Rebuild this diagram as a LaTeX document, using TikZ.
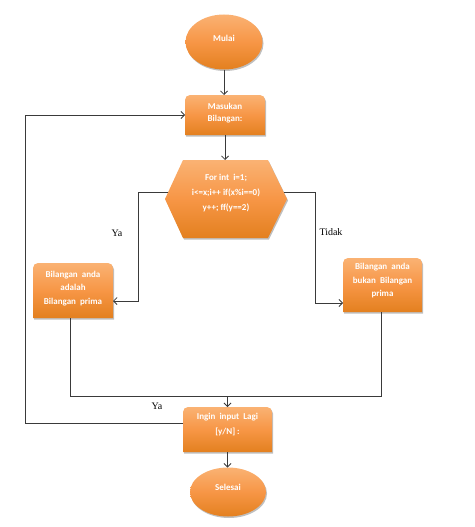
\documentclass[tikz,border=0pt]{standalone}
\usepackage{fontspec}
\setmainfont{Liberation Serif}
\newfontfamily\boxfont{Carlito}
\usetikzlibrary{arrows.meta,shapes.geometric,shadows,backgrounds}
\definecolor{ortop}{HTML}{FAB273}
\definecolor{ormid}{HTML}{F79646}
\definecolor{orbot}{HTML}{E3801F}
\definecolor{lin}{HTML}{3A3A3A}
\tikzset{
 orshade/.style={top color=ortop, bottom color=orbot, middle color=ormid,
   drop shadow={shadow xshift=1pt,shadow yshift=-1.5pt,opacity=.25,fill=black}},
 txt/.style={font=\boxfont\bfseries\fontsize{9}{14}\selectfont, text=white, align=center, inner sep=0pt, outer sep=0pt},
 terminal/.style={inner sep=0pt, outer sep=0pt, ellipse, orshade},
 boxnode/.style={inner sep=0pt, outer sep=0pt, rectangle},
 conn/.style={draw=lin, line width=0.8pt},
 arr/.style={conn, -{Straight Barb[length=3.5pt,width=7pt]}},
 lbl/.style={font=\fontsize{10}{12}\selectfont, inner sep=0pt}
}
\newcommand\topround[1]{\begin{pgfonlayer}{background}\path[orshade] (#1.south west) -- ([yshift=-5pt]#1.north west) arc[start angle=180,end angle=90,radius=5pt] -- ([xshift=-5pt]#1.north east) arc[start angle=90,end angle=0,radius=5pt] -- (#1.south east) -- cycle;\end{pgfonlayer}}
\begin{document}
\begin{tikzpicture}[x=1pt,y=-1pt]
\useasboundingbox (0,0) rectangle (474,527);
\node[terminal, minimum width=77pt, minimum height=55pt,
  label={[txt,yshift=4pt]center:Mulai}] (mulai) at (224,42) {};
\node[boxnode, minimum width=80pt, minimum height=40pt,
  label={[txt,font=\boxfont\bfseries\fontsize{9}{12}\selectfont,yshift=2pt]center:{Masukan\\Bilangan:}}] (masuk) at (225,115) {};
\topround{masuk}
\node[boxnode, minimum width=122pt, minimum height=78pt,
  label={[txt,font=\boxfont\bfseries\fontsize{9}{15}\selectfont,yshift=6pt]center:{For int~~i=1;\\i<=x;i++ if(x\%i==0)\\y++; ff(y==2)}}] (hex) at (226,199) {};
\begin{pgfonlayer}{background}
\path[orshade] (hex.west) -- ([xshift=18pt]hex.north west) -- ([xshift=-19pt]hex.north east) -- (hex.east) -- ([xshift=-19pt]hex.south east) -- ([xshift=18pt]hex.south west) -- cycle;
\end{pgfonlayer}
\node[boxnode, minimum width=80pt, minimum height=55pt,
  label={[txt,font=\boxfont\bfseries\fontsize{9}{13.5}\selectfont,yshift=2pt]center:{Bilangan~~anda\\adalah\\Bilangan~~prima}}] (ya) at (73,290.5) {};
\topround{ya}
\node[boxnode, minimum width=79pt, minimum height=54pt,
  label={[txt,font=\boxfont\bfseries\fontsize{9}{13.5}\selectfont,yshift=4pt]center:{Bilangan~~anda\\bukan~~Bilangan\\prima}}] (tidak) at (382.5,285) {};
\topround{tidak}
\node[boxnode, minimum width=89pt, minimum height=45pt,
  label={[txt,font=\boxfont\bfseries\fontsize{9}{15}\selectfont,yshift=5pt]center:{Ingin~~input~~Lagi\\{[y/N] :}}}] (ingin) at (227.5,429.5) {};
\topround{ingin}
\node[terminal, minimum width=76pt, minimum height=49pt,
  label={[txt,yshift=5pt]center:Selesai}] (selesai) at (228,492) {};
% connectors
\draw[arr] (mulai.south) -- (mulai.south |- masuk.north);
\draw[arr] (masuk.south) -- (masuk.south |- hex.north);
\coordinate (hl) at ([xshift=3pt,yshift=7pt]hex.west);
\coordinate (hr) at ([xshift=-3pt,yshift=7pt]hex.east);
\draw[arr] (hl) -- ++(-30,0) |- ([yshift=-10.5pt]ya.east);
\draw[arr] (hr) -- ++(31,0) |- ([yshift=-18pt]tidak.west);
\coordinate (jl) at ([xshift=-3pt]ya.south);
\coordinate (jr) at ([xshift=-1.5pt]tidak.south);
\draw[conn] (jl) -- (jl |- 0,396) -- (jr |- 0,396) -- (jr);
\draw[arr] (ingin.north |- 0,396) -- (ingin.north);
\draw[arr] ([yshift=6.5pt]ingin.west) -- ++(-158,0) |- (masuk.west);
\draw[arr] (ingin.south) -- (ingin.south |- selesai.north);
% labels
\node[lbl] (lya) at (117,233) {Ya};
\node[lbl] (ltidak) at (331,232) {Tidak};
\node[lbl] (lya2) at (157,406) {Ya};
\end{tikzpicture}
\end{document}
